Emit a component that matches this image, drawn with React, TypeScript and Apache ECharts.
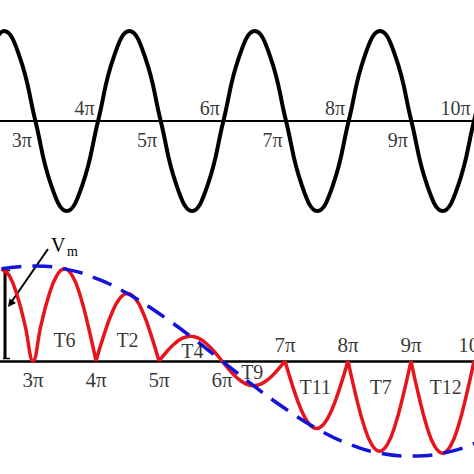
import React, { useEffect, useRef } from "react";
import * as echarts from "echarts";

// ---------- data (x in units of π) ----------
// top panel: carrier sine, sampled every π/4
const topX = [2.25, 2.5, 2.75, 3, 3.25, 3.5, 3.75, 4, 4.25, 4.5, 4.75, 5, 5.25, 5.5, 5.75, 6, 6.25, 6.5, 6.75, 7, 7.25, 7.5, 7.75, 8, 8.25, 8.5, 8.75, 9, 9.25, 9.5, 9.75, 10, 10.25];
const topY = [0.71, 1, 0.71, 0, -0.71, -1, -0.71, 0, 0.71, 1, 0.71, 0, -0.71, -1, -0.71, 0, 0.71, 1, 0.71, 0, -0.71, -1, -0.71, 0, 0.71, 1, 0.71, 0, -0.71, -1, -0.71, 0, 0.71];
const topTicksBelow = [3, 5, 7, 9];
const topTicksBelowLabels = ["3π", "5π", "7π", "9π"];
const topTicksAbove = [4, 6, 8, 10];
const topTicksAboveLabels = ["4π", "6π", "8π", "10π"];

// bottom panel: envelope (blue dashed), sampled every π/2
const envX = [2.5, 3, 3.5, 4, 4.5, 5, 5.5, 6, 6.5, 7, 7.5, 8, 8.5, 9, 9.5, 10, 10.5];
const envY = [0.97, 1.0, 0.97, 0.87, 0.71, 0.5, 0.26, 0, -0.26, -0.5, -0.71, -0.87, -0.97, -1.0, -0.97, -0.87, -0.71];

// bottom panel: red humps, each sampled every π/8 starting at humpStart
const humpStart = [2.5, 3, 4, 5, 6, 7, 8, 9];
const humpValues = [
  [0.97, 0.896, 0.686, 0.371, 0],
  [0, 0.371, 0.686, 0.896, 0.97, 0.896, 0.686, 0.371, 0],
  [0, 0.272, 0.502, 0.656, 0.71, 0.656, 0.502, 0.272, 0],
  [0, 0.1, 0.184, 0.24, 0.26, 0.24, 0.184, 0.1, 0],
  [0, -0.1, -0.184, -0.24, -0.26, -0.24, -0.184, -0.1, 0],
  [0, -0.272, -0.502, -0.656, -0.71, -0.656, -0.502, -0.272, 0],
  [0, -0.364, -0.672, -0.878, -0.95, -0.878, -0.672, -0.364, 0],
  [0, -0.371, -0.686, -0.896, -0.97, -0.896, -0.686, -0.371, 0],
];
const botTicksBelow = [3, 4, 5, 6];
const botTicksBelowLabels = ["3π", "4π", "5π", "6π"];
const botTicksAbove = [7, 8, 9, 10];
const botTicksAboveLabels = ["7π", "8π", "9π", "10π"];

const tLabels = ["T6", "T2", "T4", "T9", "T11", "T7", "T12"];
const tX = [3.5, 4.5, 5.53, 6.48, 7.48, 8.52, 9.55];
const tY = [0.226, 0.226, 0.11, -0.116, -0.274, -0.274, -0.274];

const FONT = "'Liberation Serif', 'Times New Roman', serif";

export default function App() {
  const ref = useRef<HTMLDivElement>(null);
  useEffect(() => {
    if (!ref.current) return;
    const chart = echarts.init(ref.current, undefined, { renderer: "svg" });

    const topData = topX.map((x, i) => [x, topY[i]]);
    const envData = envX.map((x, i) => [x, envY[i]]);

    const redData: any[] = [];
    humpValues.forEach((vals, h) => {
      vals.forEach((v, j) => {
        const x = humpStart[h] + j / 8;
        if (j === 0 && redData.length > 0) {
          // cusp: break line unless the sign flips (smooth crossing)
          const prevSign = Math.sign(humpValues[h - 1][4] ?? humpValues[h - 1][0]);
          const curSign = Math.sign(vals[4] ?? vals[0]);
          if (prevSign === curSign) {
            redData.push([x, "-"]);
            redData.push([x, v]);
          }
          return;
        }
        redData.push([x, v]);
      });
    });

    const tickSeries = (
      xs: number[],
      labels: string[],
      axis: number,
      pos: number[],
      align: string,
      size: number
    ) => ({
      type: "scatter",
      xAxisIndex: axis,
      yAxisIndex: axis,
      symbolSize: 1,
      itemStyle: { color: "rgba(0,0,0,0)" },
      silent: true,
      z: 5,
      data: xs.map((x, i) => ({ value: [x, 0], name: labels[i] })),
      label: {
        show: true,
        formatter: (p: any) => p.name,
        position: pos,
        align,
        verticalAlign: "middle",
        fontFamily: FONT,
        fontSize: size,
        color: "#000",
      },
    });

    const ax = (grid: number, min: number, max: number, w: number) => ({
      type: "value",
      gridIndex: grid,
      min,
      max,
      axisLine: { show: true, onZero: true, lineStyle: { color: "#000", width: w } },
      axisTick: { show: false },
      axisLabel: { show: false },
      splitLine: { show: false },
    });

    chart.setOption({
      animation: false,
      backgroundColor: "#fff",
      grid: [
        { left: 0, right: -3, top: 0, height: 242 },
        { left: 0, right: 0, top: 242, height: 232 },
      ],
      xAxis: [ax(0, 2.435, 10.0, 2), ax(1, 2.476, 10.0, 2.5)],
      yAxis: [
        { type: "value", gridIndex: 0, min: -1.345, max: 1.345, show: false },
        { type: "value", gridIndex: 1, min: -1.1895, max: 1.2526, show: false },
      ],
      series: [
        {
          type: "line",
          xAxisIndex: 0,
          yAxisIndex: 0,
          data: topData,
          smooth: 0.45,
          showSymbol: false,
          lineStyle: { color: "#000", width: 4 },
          z: 3,
        },
        tickSeries(topTicksBelow, topTicksBelowLabels, 0, [-3, 19], "right", 20),
        tickSeries(topTicksAbove, topTicksAboveLabels, 0, [-3, -13], "right", 20),
        {
          type: "line",
          xAxisIndex: 1,
          yAxisIndex: 1,
          data: redData,
          smooth: 0.45,
          showSymbol: false,
          connectNulls: false,
          lineStyle: { color: "#e8141b", width: 3.5 },
          z: 3,
        },
        {
          type: "line",
          xAxisIndex: 1,
          yAxisIndex: 1,
          data: envData,
          smooth: 0.45,
          showSymbol: false,
          lineStyle: { color: "#1414d8", width: 3.5, type: [20, 11] },
          z: 4,
        },
        tickSeries(botTicksBelow, botTicksBelowLabels, 1, [0.5, 20], "center", 21),
        tickSeries(botTicksAbove, botTicksAboveLabels, 1, [0.5, -15], "center", 21),
        {
          type: "scatter",
          xAxisIndex: 1,
          yAxisIndex: 1,
          symbolSize: 1,
          itemStyle: { color: "rgba(0,0,0,0)" },
          silent: true,
          z: 5,
          data: tX.map((x, i) => ({ value: [x, tY[i]], name: tLabels[i] })),
          label: {
            show: true,
            formatter: (p: any) => p.name,
            position: "inside",
            align: "center",
            verticalAlign: "middle",
            fontFamily: FONT,
            fontSize: 20,
            color: "#000",
          },
        },
      ],
      graphic: [
        { type: "line", shape: { x1: 5, y1: 270, x2: 5, y2: 359 }, style: { stroke: "#000", lineWidth: 3 } },
        { type: "line", shape: { x1: 3, y1: 270.5, x2: 10, y2: 270.5 }, style: { stroke: "#000", lineWidth: 1.5 } },
        { type: "line", shape: { x1: 3, y1: 358.5, x2: 10, y2: 358.5 }, style: { stroke: "#000", lineWidth: 1.5 } },
        { type: "line", shape: { x1: 48, y1: 249, x2: 12, y2: 301 }, style: { stroke: "#000", lineWidth: 2 } },
        {
          type: "polygon",
          shape: { points: [[8, 307], [16, 303], [9.5, 298.5]] },
          style: { fill: "#000" },
        },
        {
          type: "text",
          x: 51,
          y: 235,
          style: { text: "V", font: `20px ${FONT}`, fill: "#000", textAlign: "left", textVerticalAlign: "top" },
        },
        {
          type: "text",
          x: 67,
          y: 244,
          style: { text: "m", font: `14px ${FONT}`, fill: "#000", textAlign: "left", textVerticalAlign: "top" },
        },
      ],
    });
    return () => chart.dispose();
  }, []);
  return (
    <div
      ref={ref}
      style={{ position: "fixed", left: 0, top: 0, width: 474, height: 474 }}
    />
  );
}
